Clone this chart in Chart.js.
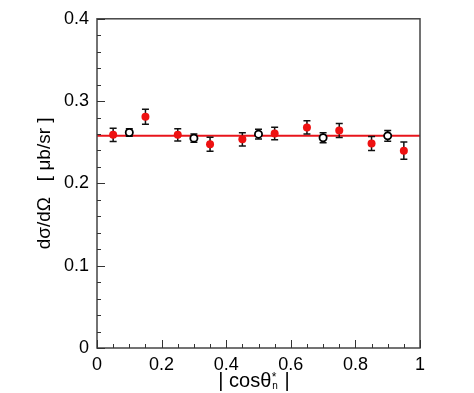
<!DOCTYPE html>
<html>
<head>
<meta charset="utf-8">
<script src="https://cdn.jsdelivr.net/npm/chart.js@4.4.0/dist/chart.umd.min.js"></script>
<style>
  html, body { margin: 0; padding: 0; background: #fff; }
  #wrap { width: 474px; height: 393px; position: relative; }
</style>
</head>
<body>
<div id="wrap"><canvas id="xsecChart"></canvas></div>
<script>
// measured points (filled red) and the open black ones
const redX = [0.05, 0.15, 0.25, 0.35, 0.45, 0.55, 0.65, 0.75, 0.85, 0.95];
const redY = [0.259, 0.281, 0.259, 0.2475, 0.2535, 0.2606, 0.268, 0.2643, 0.2486, 0.2398];
const redErr = [0.008, 0.0092, 0.0075, 0.0085, 0.008, 0.0076, 0.008, 0.0085, 0.0085, 0.0105];

const openX = [0.1, 0.3, 0.5, 0.7, 0.9];
const openY = [0.2618, 0.255, 0.2598, 0.2555, 0.2578];
const openErr = [0.0045, 0.005, 0.006, 0.006, 0.0065];

// constant fit line
const fitX = [0, 1];
const fitY = [0.258, 0.258];

const xTicks = [0, 0.2, 0.4, 0.6, 0.8, 1];
const yTicks = [0, 0.1, 0.2, 0.3, 0.4];
const xMinorStep = 0.05;
const yMinorStep = 0.02;

const FONT = "'Liberation Sans', Arial, sans-serif";

function toPoints(xs, ys) {
    return xs.map((x, i) => ({ x: x, y: ys[i] }));
}

// error bars, frame, inner ticks and the x title
const decorPlugin = {
    id: 'decor',
    afterDatasetDraw(chart, args) {
        // draw error bars right after the fit line, under the markers
        if (args.index !== 0) return;
        const ctx = chart.ctx;
        const xs = chart.scales.x, ys = chart.scales.y;
        ctx.save();
        ctx.strokeStyle = '#111';
        ctx.lineWidth = 1.5;
        const sets = [[redX, redY, redErr], [openX, openY, openErr]];
        sets.forEach(function (s) {
            s[0].forEach(function (xv, i) {
                const px = xs.getPixelForValue(xv);
                const top = ys.getPixelForValue(s[1][i] + s[2][i]);
                const bot = ys.getPixelForValue(s[1][i] - s[2][i]);
                ctx.beginPath();
                ctx.moveTo(px, top); ctx.lineTo(px, bot);
                ctx.moveTo(px - 3.5, top); ctx.lineTo(px + 3.5, top);
                ctx.moveTo(px - 3.5, bot); ctx.lineTo(px + 3.5, bot);
                ctx.stroke();
            });
        });
        ctx.restore();
    },
    afterDraw(chart) {
        const ctx = chart.ctx;
        const a = chart.chartArea;
        const xs = chart.scales.x, ys = chart.scales.y;
        ctx.save();
        ctx.strokeStyle = '#444';
        ctx.lineWidth = 1.5;
        ctx.strokeRect(a.left, a.top, a.right - a.left, a.bottom - a.top);

        ctx.lineWidth = 1;
        ctx.strokeStyle = '#333';
        ctx.beginPath();
        for (let v = 0; v <= 0.4001; v += yMinorStep) {
            const py = Math.round(ys.getPixelForValue(v)) + 0.5;
            const major = Math.abs(v * 10 - Math.round(v * 10)) < 1e-6;
            ctx.moveTo(a.left, py);
            ctx.lineTo(a.left + (major ? 8 : 4), py);
        }
        for (let v = 0; v <= 1.0001; v += xMinorStep) {
            const px = Math.round(xs.getPixelForValue(v)) + 0.5;
            const major = Math.abs(v * 5 - Math.round(v * 5)) < 1e-6;
            ctx.moveTo(px, a.bottom);
            ctx.lineTo(px, a.bottom - (major ? 8 : 4));
        }
        ctx.stroke();

        // x title: | cosθ*n |
        ctx.fillStyle = '#000';
        ctx.textBaseline = 'alphabetic';
        const main = '| cos\u03b8';
        ctx.font = '20px ' + FONT;
        const w1 = ctx.measureText(main).width;
        ctx.font = '10px ' + FONT;
        const w2 = ctx.measureText('n').width + 2;
        ctx.font = '20px ' + FONT;
        const w3 = ctx.measureText(' |').width;
        const total = w1 + w2 + w3;
        const x0 = 254 - total / 2;
        const base = 387;
        ctx.fillText(main, x0, base);
        ctx.font = '12px ' + FONT;
        ctx.fillText('*', x0 + w1 + 0.5, base - 6);
        ctx.font = '10px ' + FONT;
        ctx.fillText('n', x0 + w1 + 1, base + 2);
        ctx.font = '20px ' + FONT;
        ctx.fillText(' |', x0 + w1 + w2, base);
        ctx.restore();
    }
};

const ctx = document.getElementById('xsecChart').getContext('2d');
new Chart(ctx, {
    type: 'scatter',
    data: {
        datasets: [
            {
                type: 'line',
                label: 'fit',
                data: toPoints(fitX, fitY),
                borderColor: '#e8141b',
                borderWidth: 2,
                pointRadius: 0,
                order: 3
            },
            {
                label: 'open',
                data: toPoints(openX, openY),
                pointRadius: 3.6,
                pointBackgroundColor: '#fff',
                pointBorderColor: '#000',
                pointBorderWidth: 1.8,
                order: 1
            },
            {
                label: 'filled',
                data: toPoints(redX, redY),
                pointRadius: 4,
                pointBackgroundColor: '#ee1111',
                pointBorderColor: '#ee1111',
                pointBorderWidth: 0,
                order: 0
            }
        ]
    },
    options: {
        responsive: true,
        maintainAspectRatio: false,
        animation: false,
        layout: { padding: { top: 15, right: 54, left: 0, bottom: 0 } },
        plugins: {
            legend: { display: false },
            tooltip: { enabled: false }
        },
        scales: {
            x: {
                type: 'linear',
                min: 0,
                max: 1,
                afterBuildTicks: function (axis) {
                    axis.ticks = xTicks.map(v => ({ value: v }));
                },
                afterFit: function (axis) { axis.height = 45; },
                grid: { display: false, drawTicks: false },
                border: { display: false },
                ticks: {
                    padding: 6,
                    color: '#000',
                    font: { family: FONT, size: 18 },
                    callback: function (v) { return String(+v.toFixed(2)); }
                }
            },
            y: {
                type: 'linear',
                min: 0,
                max: 0.4,
                afterBuildTicks: function (axis) {
                    axis.ticks = yTicks.map(v => ({ value: v }));
                },
                afterFit: function (axis) { axis.width = 97; },
                grid: { display: false, drawTicks: false },
                border: { display: false },
                title: {
                    display: true,
                    text: 'd\u03c3/d\u03a9   [ \u03bcb/sr ]',
                    color: '#000',
                    font: { family: FONT, size: 19 },
                    padding: { top: 33, bottom: 0 }
                },
                ticks: {
                    padding: 8,
                    color: '#000',
                    font: { family: FONT, size: 18 },
                    callback: function (v) { return String(+v.toFixed(2)); }
                }
            }
        }
    },
    plugins: [decorPlugin]
});
</script>
</body>
</html>
